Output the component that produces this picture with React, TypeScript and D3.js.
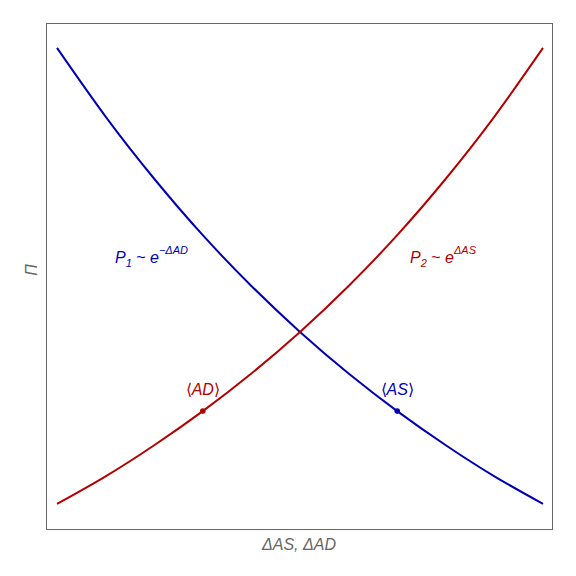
import React from 'react';
import * as d3 from 'd3';

// values at evenly spaced points
const xs = [-0.5, -0.4, -0.3, -0.2, -0.1, 0, 0.1, 0.2, 0.3, 0.4, 0.5];
const p2Values = [0.607, 0.670, 0.741, 0.819, 0.905, 1.0, 1.105, 1.221, 1.35, 1.492, 1.649];
const p1Values = [1.649, 1.492, 1.35, 1.221, 1.105, 1.0, 0.905, 0.819, 0.741, 0.670, 0.607];

const markers = [
  { x: -0.2, y: 0.819, label: 'AD', color: '#b30000' },
  { x: 0.2, y: 0.819, label: 'AS', color: '#0000b3' },
];

const BLUE = '#0000b3';
const RED = '#b30000';
const GRAY = '#666666';

const App: React.FC = () => {
  const width = 576;
  const height = 576;
  const frame = { left: 46, top: 23, right: 552, bottom: 529 };

  const x = d3.scaleLinear().domain([-0.5, 0.5]).range([57, 543]);
  const y = d3.scaleLinear().domain([0.5495, 1.706]).range([frame.bottom, frame.top]);

  const line = d3.line<[number, number]>()
    .x(d => x(d[0]))
    .y(d => y(d[1]))
    .curve(d3.curveNatural);

  const p1Path = line(xs.map((v, i) => [v, p1Values[i]]))!;
  const p2Path = line(xs.map((v, i) => [v, p2Values[i]]))!;

  const font = "'Liberation Sans', Arial, sans-serif";

  return (
    <svg width={width} height={height} style={{ position: 'absolute', left: 0, top: 0 }} fontFamily={font}>
      <rect x={0} y={0} width={width} height={height} fill="#fff" />
      <rect
        x={frame.left + 0.5}
        y={frame.top + 0.5}
        width={frame.right - frame.left}
        height={frame.bottom - frame.top}
        fill="none"
        stroke={GRAY}
        strokeWidth={1}
      />
      <path d={p1Path} fill="none" stroke={BLUE} strokeWidth={2} />
      <path d={p2Path} fill="none" stroke={RED} strokeWidth={2} />

      {markers.map(m => (
        <g key={m.label}>
          <circle cx={x(m.x)} cy={y(m.y)} r={2.8} fill={m.color} />
          <text
            x={x(m.x)}
            y={y(m.y) - 16}
            textAnchor="middle"
            fontSize={16}
            fill={m.color}
          >
            ⟨<tspan fontStyle="italic">{m.label}</tspan>⟩
          </text>
        </g>
      ))}

      {/* P1 label */}
      <text x={115} y={263} fontSize={16} fill={BLUE} fontStyle="italic">
        P<tspan fontSize={11} dy={4}>1</tspan>
        <tspan dy={-4} fontStyle="normal"> ~ </tspan>
        <tspan>e</tspan>
        <tspan fontSize={11} dy={-9}>−ΔAD</tspan>
      </text>

      {/* P2 label */}
      <text x={410} y={263} fontSize={16} fill={RED} fontStyle="italic">
        P<tspan fontSize={11} dy={4}>2</tspan>
        <tspan dy={-4} fontStyle="normal"> ~ </tspan>
        <tspan>e</tspan>
        <tspan fontSize={11} dy={-9}>ΔAS</tspan>
      </text>

      {/* axis labels */}
      <text x={299} y={550} textAnchor="middle" fontSize={16} fontStyle="italic" fill={GRAY}>
        ΔAS, ΔAD
      </text>
      <text
        transform="translate(37,270) rotate(-90)"
        textAnchor="middle"
        fontSize={16}
        fontStyle="italic"
        fill={GRAY}
      >
        Π
      </text>
    </svg>
  );
};

export default App;
